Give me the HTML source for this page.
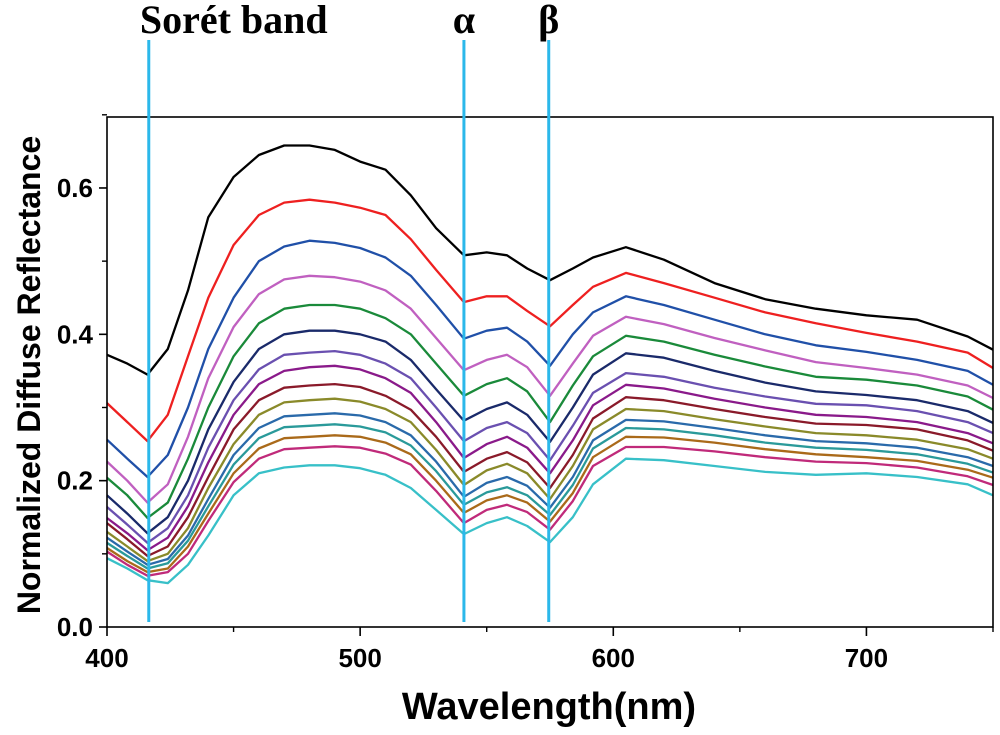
<!DOCTYPE html>
<html><head><meta charset="utf-8">
<style>
html,body{margin:0;padding:0;background:#fff;}
svg{display:block;}
.tk{font-family:"Liberation Sans",sans-serif;font-weight:bold;font-size:26px;fill:#000;}
</style></head>
<body>
<svg id="chart" width="1000" height="735" viewBox="0 0 1000 735" xmlns="http://www.w3.org/2000/svg"></svg>
<script>
const wavelengths=[400,408,416,424,432,440,450,460,470,480,490,500,510,520,530,541,550,558,566,575,584,592,605,620,640,660,680,700,720,740,750];
const sBlack=[.372,.360,.345,.38,.46,.56,.615,.645,.658,.658,.652,.636,.625,.590,.545,.508,.512,.508,.49,.474,.49,.505,.519,.502,.47,.448,.435,.426,.42,.397,.379];
const sRed=[.306,.28,.254,.29,.37,.45,.522,.563,.58,.584,.58,.573,.563,.53,.488,.444,.452,.452,.432,.411,.44,.465,.484,.47,.45,.43,.415,.402,.39,.375,.354];
const sBlue=[.256,.23,.205,.235,.30,.38,.45,.50,.52,.528,.525,.518,.505,.48,.44,.394,.405,.409,.39,.357,.40,.43,.452,.44,.42,.40,.385,.376,.365,.35,.331];
const sPink=[.226,.20,.17,.195,.26,.34,.41,.455,.475,.48,.478,.472,.46,.435,.395,.351,.365,.372,.355,.316,.36,.398,.424,.414,.395,.378,.362,.354,.345,.33,.313];
const sGreen=[.204,.18,.149,.17,.23,.30,.37,.415,.435,.44,.44,.435,.422,.40,.36,.316,.332,.34,.322,.28,.33,.37,.398,.39,.372,.356,.342,.338,.33,.315,.297];
const sNavy=[.18,.155,.128,.15,.20,.27,.335,.38,.40,.405,.405,.40,.39,.365,.325,.282,.298,.307,.29,.253,.30,.345,.374,.368,.35,.334,.322,.317,.31,.295,.279];
const sViolet=[.164,.14,.115,.135,.18,.245,.31,.352,.372,.375,.377,.372,.36,.34,.30,.254,.272,.28,.265,.228,.275,.32,.347,.342,.327,.315,.305,.303,.295,.28,.265];
const sPurple=[.149,.128,.105,.122,.165,.225,.29,.332,.35,.355,.357,.352,.34,.32,.28,.231,.25,.26,.245,.21,.255,.303,.331,.326,.312,.30,.29,.287,.28,.265,.251];
const sDarkRed=[.142,.12,.097,.11,.15,.205,.27,.31,.327,.33,.332,.328,.316,.297,.26,.212,.23,.239,.225,.19,.235,.285,.314,.31,.298,.287,.278,.276,.27,.255,.241];
const sOlive=[.13,.11,.09,.10,.135,.19,.25,.29,.307,.31,.312,.308,.298,.28,.242,.194,.214,.223,.21,.175,.22,.27,.298,.295,.284,.274,.265,.262,.256,.243,.23];
const sSteel=[.122,.103,.085,.093,.125,.175,.235,.272,.288,.29,.292,.289,.28,.262,.226,.178,.197,.205,.193,.163,.205,.255,.283,.281,.272,.262,.254,.251,.245,.232,.22];
const sTeal=[.115,.097,.08,.087,.118,.165,.222,.258,.273,.275,.277,.274,.266,.248,.213,.167,.184,.191,.18,.153,.194,.244,.272,.27,.262,.252,.245,.242,.236,.223,.211];
const sBrown=[.108,.09,.075,.08,.11,.155,.21,.244,.258,.26,.262,.26,.252,.236,.20,.156,.173,.18,.17,.144,.183,.232,.26,.259,.252,.243,.236,.232,.227,.215,.204];
const sMagenta=[.103,.085,.07,.075,.10,.145,.198,.23,.243,.245,.247,.245,.237,.222,.186,.142,.16,.167,.157,.133,.172,.22,.246,.246,.24,.232,.226,.224,.218,.206,.194];
const sCyan=[.094,.08,.064,.06,.085,.125,.18,.21,.218,.221,.221,.217,.208,.19,.16,.127,.142,.15,.138,.116,.15,.195,.23,.228,.22,.212,.208,.21,.205,.195,.18];
const seriesList=[sBlack,sRed,sBlue,sPink,sGreen,sNavy,sViolet,sPurple,sDarkRed,sOlive,sSteel,sTeal,sBrown,sMagenta,sCyan];
const seriesNames=["black","red","blue","pink","green","navy","violet","purple","dark-red","olive","steel-blue","teal","brown","magenta","cyan"];
const seriesColors=["#000000","#ee2020","#2050a8","#c060c0","#1a8a3a","#1a2a6a","#6a50b0","#8a1a8a","#8a1a2a","#8a8a2a","#2a6aaa","#2a9a9a","#aa6a1a","#c02a7a","#38c0c8"];
const xTicks=[400,500,600,700];
const xMinor=[450,550,650,750];
const yTicks=[0.0,0.2,0.4,0.6];
const yTickLabels=["0.0","0.2","0.4","0.6"];
const yMinor=[0.1,0.3,0.5,0.7];
const bandPositions=[416.5,541,574.5];
const bandLabels=["Sorét band","α","β"];

const NS="http://www.w3.org/2000/svg";
const svg=document.getElementById('chart');
const L=107,R=993,T=117,B=627;
const X=v=>L+(v-400)/(750-400)*(R-L);
const Y=v=>B-v/0.697*(B-T);
function mk(tag,attrs,parent){const e=document.createElementNS(NS,tag);for(const k in attrs)e.setAttribute(k,attrs[k]);(parent||svg).appendChild(e);return e;}

seriesList.forEach((s,i)=>{
  const p=mk('polyline',{points:s.map((v,j)=>X(wavelengths[j]).toFixed(1)+','+Y(v).toFixed(1)).join(' '),fill:'none',stroke:seriesColors[i],'stroke-width':2.3,'stroke-linejoin':'round'});
  
  
});
const fr=mk('rect',{x:L,y:T,width:R-L,height:B-T,fill:'none',stroke:'#000','stroke-width':1.6});


xTicks.forEach(v=>{
  mk('line',{x1:X(v),x2:X(v),y1:B,y2:B+9,stroke:'#000','stroke-width':1.6});
  const t=mk('text',{x:X(v),y:B+40,'text-anchor':'middle',class:'tk'});t.textContent=v;
  
  
});
xMinor.forEach(v=>{mk('line',{x1:X(v),x2:X(v),y1:B,y2:B+5,stroke:'#000','stroke-width':1.4});});
yTicks.forEach((v,i)=>{
  mk('line',{x1:L-8,x2:L,y1:Y(v),y2:Y(v),stroke:'#000','stroke-width':1.6});
  const t=mk('text',{x:L-14,y:Y(v)+9,'text-anchor':'end',class:'tk'});t.textContent=yTickLabels[i];
  
  
});
yMinor.forEach(v=>{mk('line',{x1:L-5,x2:L,y1:Y(v),y2:Y(v),stroke:'#000','stroke-width':1.4});});
bandPositions.forEach((v,i)=>{
  const ln=mk('line',{x1:X(v),x2:X(v),y1:40,y2:622,stroke:'#2bb8ea','stroke-width':3});
  
  
  const t=mk('text',{x:X(v)+(i==0?85:0),y:33,'text-anchor':'middle','font-family':'"Liberation Serif",serif','font-weight':'bold','font-size':40});
  t.textContent=bandLabels[i];
  
  
});
const xt=mk('text',{x:549,y:719,'text-anchor':'middle','font-family':'"Liberation Sans",sans-serif','font-weight':'bold','font-size':38});
xt.textContent='Wavelength(nm)';


const yt=mk('text',{x:0,y:0,'text-anchor':'middle','font-family':'"Liberation Sans",sans-serif','font-weight':'bold','font-size':32,transform:'translate(40,375) rotate(-90)'});
yt.textContent='Normalized Diffuse Reflectance';


</script>
</body></html>
